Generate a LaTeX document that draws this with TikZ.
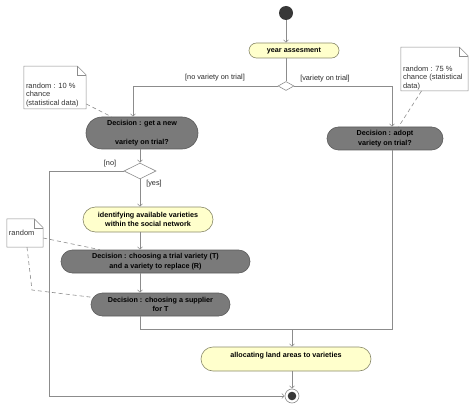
\documentclass[tikz,border=0pt]{standalone}
\usepackage{fontspec}
\setmainfont{Liberation Sans}
\usetikzlibrary{shapes.misc,shapes.geometric,arrows.meta}
\definecolor{ln}{HTML}{8C8C8C}
\definecolor{yel}{HTML}{FFFFCC}
\definecolor{yelb}{HTML}{8A8A6A}
\definecolor{dec}{HTML}{7A7A7A}
\definecolor{decb}{HTML}{5A5A5A}
\newcommand\noteframe[1]{%
  \draw[notefr] (#1.north west) -- ([xshift=-9pt]#1.north east) -- ([yshift=-9pt]#1.north east) -- (#1.south east) -- (#1.south west) -- cycle;
  \draw[notefr] ([xshift=-9pt]#1.north east) |- ([yshift=-9pt]#1.north east);}
\begin{document}
\begin{tikzpicture}[x=1pt,y=-1pt,
  act/.style={rounded rectangle, draw=yelb, fill=yel, line width=0.6pt, inner sep=0pt, align=center, font=\fontsize{7.2}{9.3}\selectfont\bfseries},
  decbox/.style={act, draw=decb, fill=dec},
  flow/.style={draw=ln, line width=0.6pt},
  arr/.style={flow, -{Straight Barb[length=2.5pt,width=5pt]}},
  choice/.style={diamond, draw=ln, fill=white, inner sep=0pt, line width=0.6pt},
  guard/.style={font=\fontsize{7.3}{9}\selectfont, inner sep=0pt, text=black!85},
  notebox/.style={inner xsep=2pt, font=\fontsize{7.5}{8.5}\selectfont, text=black!80},
  notefr/.style={draw=ln, line width=0.5pt},
  anchorline/.style={draw=ln, dash pattern=on 4pt off 3pt, line width=0.6pt}
]
\useasboundingbox (0,0) rectangle (474,409);

% nodes
\node[circle, fill=black!78, minimum size=14pt, inner sep=0pt] (start) at (286,13) {};
\node[act, minimum width=90pt, minimum height=15pt] (year) at (294,50.5) {year assesment};
\node[choice, minimum width=16pt, minimum height=9pt] (d1) at (286,86) {};
\node[decbox, minimum width=112pt, minimum height=32pt] (getnew) at (142,133) {Decision : get a new\\[9pt]variety on trial?};
\node[decbox, minimum width=116pt, minimum height=23pt] (adopt) at (385,138.5) {Decision : adopt\\variety on trial?};
\node[choice, minimum width=32pt, minimum height=16pt] (d2) at (140,171) {};
\node[act, minimum width=130pt, minimum height=25pt] (ident) at (148,219.5) {identifying available varieties\\within the social network};
\node[decbox, minimum width=189pt, minimum height=23pt] (choose) at (155.5,261.5) {Decision : choosing a trial variety (T)\\and a variety to replace (R)};
\node[decbox, minimum width=139pt, minimum height=23pt] (supplier) at (160.5,304.5) {Decision : choosing a supplier\\for T};
\node[act, minimum width=170pt, minimum height=24pt] (alloc) at (286,359) {allocating land areas to varieties\\[-2pt]\mbox{}};
\node[circle, draw=ln, line width=0.6pt, minimum size=14pt, inner sep=0pt,
  path picture={\fill[black!78] (path picture bounding box.center) circle (4.3pt);}] (final) at (292,396) {};

% notes
\node[notebox, inner ysep=2pt] (n10) at (55,87.5) {\parbox[c][37pt][b]{58pt}{random : 10 \%\\chance\\(statistical data)}};
\noteframe{n10}
\node[notebox, inner ysep=1pt] (n75) at (434.5,69) {\parbox[c][40pt][b]{63pt}{random : 75 \%\\chance (statistical\\data)}};
\noteframe{n75}
\node[notebox, inner ysep=1pt] (nr) at (25,233) {\parbox[c][26pt][c]{32pt}{random}};
\noteframe{nr}

% guards
\node[guard] (g1) at (215,78) {[no variety on trial]};
\node[guard] (g2) at (325,79) {[variety on trial]};
\node[guard] (g3) at (110,164) {[no]};
\node[guard] (g4) at (154,184) {[yes]};

% helper coordinates
\coordinate (c1) at (133,86);
\coordinate (c2) at (392,86);
\coordinate (c3) at (49,171);
\coordinate (c4) at (49,396);
\coordinate (c5) at (140,329);
\coordinate (c6) at (392,329);
\coordinate (c7) at (292,329);
\coordinate (b1) at (32,290);

% flows
\draw[arr] (start) -- (start |- year.north);
\draw[flow] (d1 |- year.south) -- (d1.north);
\draw[arr] (d1.west) -- (c1) -- (c1 |- getnew.north);
\draw[arr] (d1.east) -- (c2) -- (c2 |- adopt.north);
\draw[arr] (d2 |- getnew.south) -- (d2.north);
\draw[arr] (d2.west) -- (c3) -- (c4) -- (final.west);
\draw[arr] (d2.south) -- (d2 |- ident.north);
\draw[arr] (d2 |- ident.south) -- (d2 |- choose.north);
\draw[arr] (d2 |- choose.south) -- (d2 |- supplier.north);
\draw[flow] (d2 |- supplier.south) -- (c5) -- (c6) -- (c6 |- adopt.south);
\draw[arr] (c7) -- (c7 |- alloc.north);
\draw[arr] (c7 |- alloc.south) -- (final.north);

% note anchors
\draw[anchorline] ([yshift=5pt]n10.south east) -- (getnew.152);
\draw[anchorline] ([xshift=-13pt]n75.south) -- (adopt.41);
\draw[anchorline] ([yshift=-5pt]nr.east) -- (choose.168);
\draw[anchorline] ([xshift=2pt]nr.south) -- (b1) -- (supplier.174);
\end{tikzpicture}
\end{document}
